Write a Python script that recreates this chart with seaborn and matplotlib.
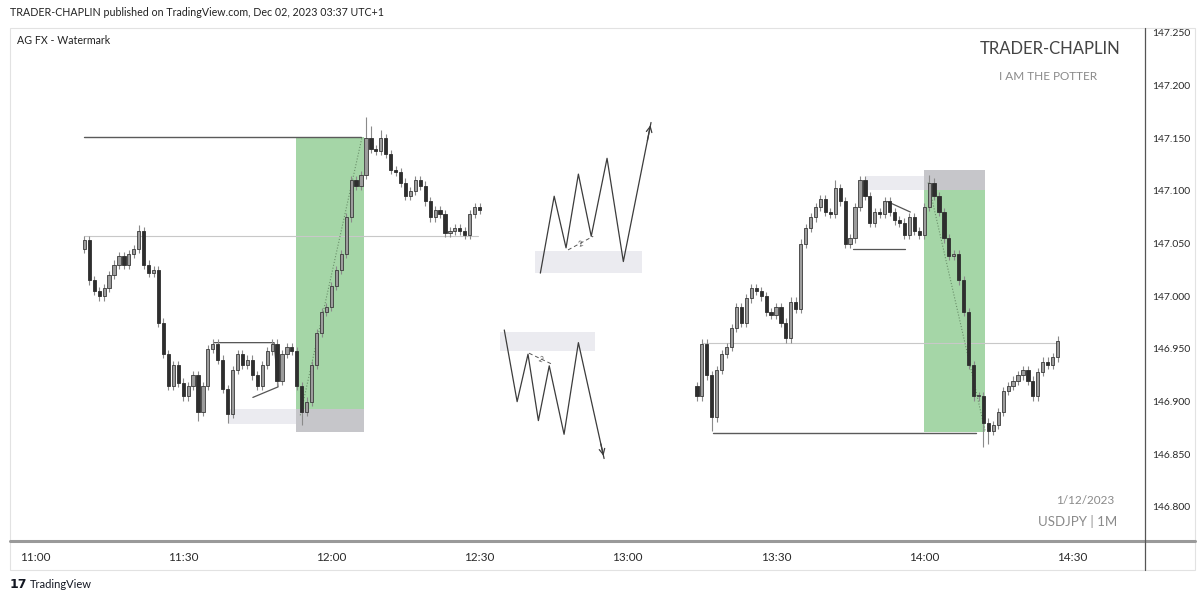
import matplotlib
matplotlib.use('Agg')
import matplotlib.pyplot as plt
from matplotlib.lines import Line2D
from matplotlib.patches import Rectangle
import numpy as np
import pandas as pd
import seaborn as sns

# ---- data (x = minutes after 11:00, y = USDJPY price) ----
seg1_start = 10
seg1_first_open = 147.045
seg1_close = [147.053, 147.015, 147.005, 147.000, 147.008, 147.020, 147.030, 147.038, 147.030, 147.040,
              147.045, 147.062, 147.030, 147.022, 147.025, 146.975, 146.945, 146.915, 146.935, 146.918,
              146.905, 146.915, 146.925, 146.890, 146.915, 146.950, 146.955, 146.940, 146.912, 146.888,
              146.930, 146.945, 146.935, 146.940, 146.925, 146.915, 146.935, 146.948, 146.955, 146.920,
              146.945, 146.952, 146.948, 146.915, 146.890, 146.900, 146.935, 146.965, 146.985, 146.990,
              147.010, 147.025, 147.040, 147.075, 147.110, 147.105, 147.115, 147.150, 147.140, 147.138,
              147.150, 147.135, 147.120, 147.118, 147.108, 147.095, 147.100, 147.110, 147.105, 147.090,
              147.075, 147.082, 147.078, 147.060, 147.062, 147.065, 147.062, 147.058, 147.078, 147.085,
              147.082]
seg1_high_fix = {11: 147.068, 57: 147.170, 58: 147.162, 60: 147.158}
seg1_low_fix = {23: 146.882, 29: 146.880, 44: 146.878}

seg2_start = 134
seg2_first_open = 146.915
seg2_close = [146.905, 146.955, 146.925, 146.885, 146.930, 146.945, 146.952, 146.970, 146.990, 146.975,
              146.998, 147.008, 147.005, 147.000, 146.985, 146.982, 146.990, 146.975, 146.960, 146.995,
              146.988, 147.050, 147.065, 147.075, 147.085, 147.092, 147.080, 147.078, 147.103, 147.090,
              147.050, 147.055, 147.085, 147.110, 147.095, 147.070, 147.080, 147.078, 147.090, 147.080,
              147.072, 147.070, 147.058, 147.075, 147.062, 147.058, 147.085, 147.108, 147.095, 147.080,
              147.055, 147.038, 147.040, 147.015, 146.985, 146.935, 146.905, 146.905, 146.880, 146.872,
              146.878, 146.890, 146.910, 146.915, 146.920, 146.925, 146.930, 146.920, 146.905, 146.928,
              146.938, 146.935, 146.942, 146.958]
seg2_high_fix = {28: 147.110, 47: 147.115, 73: 146.962}
seg2_low_fix = {3: 146.872, 58: 146.857, 59: 146.860}

# drawings
zig_up_x = [102.3, 105.1, 107.5, 110.0, 112.6, 115.8, 119.1, 124.7]
zig_up_y = [147.022, 147.095, 147.046, 147.116, 147.057, 147.131, 147.033, 147.165]
zig_dn_x = [95.0, 97.6, 99.8, 101.9, 104.1, 107.1, 110.0, 115.2]
zig_dn_y = [146.968, 146.900, 146.945, 146.882, 146.934, 146.869, 146.956, 146.846]

# (x0, x1, y0, y1, colour)
boxes = [
    (52.9, 66.6, 146.893, 147.151, '#a5d6a7'),
    (52.9, 66.6, 146.871, 146.893, '#c6c6ca'),
    (39.1, 52.9, 146.879, 146.893, '#ebebf0'),
    (180.0, 192.4, 146.871, 147.101, '#a5d6a7'),
    (180.0, 192.4, 147.101, 147.120, '#c6c6ca'),
    (168.3, 180.0, 147.101, 147.114, '#ebebf0'),
    (101.3, 122.9, 147.022, 147.043, '#ebebf0'),
    (94.2, 113.4, 146.948, 146.966, '#ebebf0'),
]
# (xs, ys, colour, width, style)
lines = [
    ([10, 66], [147.151, 147.151], '#5a5a5a', 1.0, '-'),
    ([10, 89.7], [147.057, 147.057], '#c8c8c8', 0.8, '-'),
    ([36.2, 48.4, 49.2, 44.1], [146.956, 146.956, 146.914, 146.904], '#555555', 0.9, '-'),
    ([53.7, 66.2], [146.887, 147.151], '#6a8f6a', 0.8, ':'),
    ([137.3, 190.4], [146.870, 146.870], '#5a5a5a', 1.0, '-'),
    ([135.3, 207.2], [146.956, 146.956], '#c8c8c8', 0.8, '-'),
    ([165.5, 176.2], [147.045, 147.045], '#555555', 0.9, '-'),
    ([172.5, 177.2], [147.090, 147.080], '#555555', 0.9, '-'),
    ([180.8, 192.4], [147.108, 146.871], '#6a8f6a', 0.8, ':'),
    ([107.9, 113.0], [147.044, 147.057], '#555555', 0.7, (0, (4, 3))),
    ([100.0, 104.9], [146.946, 146.935], '#555555', 0.7, (0, (4, 3))),
]

time_ticks = [0, 30, 60, 90, 120, 150, 180, 210]
time_labels = ['11:00', '11:30', '12:00', '12:30', '13:00', '13:30', '14:00', '14:30']
price_ticks = [146.80, 146.85, 146.90, 146.95, 147.00, 147.05, 147.10, 147.15, 147.20, 147.25]


def make_candles(start, first_open, closes, high_fix, low_fix):
    opens = [first_open] + closes[:-1]
    df = pd.DataFrame({'t': np.arange(start, start + len(closes)), 'open': opens, 'close': closes})
    df['high'] = df[['open', 'close']].max(axis=1) + 0.004
    df['low'] = df[['open', 'close']].min(axis=1) - 0.004
    for k, v in high_fix.items():
        df.loc[k, 'high'] = v
    for k, v in low_fix.items():
        df.loc[k, 'low'] = v
    return df


sns.set_style('white')
plt.rcParams['font.family'] = ['Lato', 'DejaVu Sans']

fig = plt.figure(figsize=(12, 6.01), dpi=100)
ax = fig.add_axes([10 / 1200, 1 - 541 / 601, 1135 / 1200, 513 / 601])

for x0, x1, y0, y1, c in boxes:
    ax.add_patch(Rectangle((x0, y0), x1 - x0, y1 - y0, facecolor=c, edgecolor='none', zorder=1))

for xs, ys, c, w, st in lines:
    ax.plot(xs, ys, color=c, lw=w, ls=st, zorder=2)

candles = pd.concat([make_candles(seg1_start, seg1_first_open, seg1_close, seg1_high_fix, seg1_low_fix),
                     make_candles(seg2_start, seg2_first_open, seg2_close, seg2_high_fix, seg2_low_fix)])
up = candles['close'] >= candles['open']
ax.vlines(candles['t'], candles['low'], candles['high'], color='#8a8a8a', lw=0.8, zorder=3)
body = (candles['close'] - candles['open']).abs().clip(lower=0.0012)
bottom = candles[['open', 'close']].min(axis=1)
ax.bar(candles['t'][up], body[up], bottom=bottom[up], width=0.65, color='#9c9c9c',
       edgecolor='#3a3a3a', linewidth=0.6, zorder=4)
ax.bar(candles['t'][~up], body[~up], bottom=bottom[~up], width=0.65, color='#2e2e2e',
       edgecolor='#2e2e2e', linewidth=0.6, zorder=4)

# zigzag projections
for zx, zy in [(zig_up_x, zig_up_y), (zig_dn_x, zig_dn_y)]:
    sns.lineplot(x=zx, y=zy, sort=False, color='#3c3c3c', lw=0.9, ax=ax, zorder=5)
    ax.annotate('', xy=(zx[-1], zy[-1]), xytext=(zx[-2] + (zx[-1] - zx[-2]) * 0.85,
                                                zy[-2] + (zy[-1] - zy[-2]) * 0.85),
                arrowprops=dict(arrowstyle='->', color='#3c3c3c', lw=0.9), zorder=5)
ax.text(110.4, 147.050, '2', fontsize=5, color='#555555', ha='center', va='center', rotation=20, zorder=6)
ax.text(102.4, 146.9405, '2', fontsize=5, color='#555555', ha='center', va='center', rotation=-20, zorder=6)

ax.set_xlim(-5.06, 224.7)
ax.set_ylim(146.7677, 147.2547)
ax.set_xticks(time_ticks)
ax.set_xticklabels(time_labels)
ax.set_yticks(price_ticks)
ax.set_yticklabels(['%.3f' % p for p in price_ticks])
ax.yaxis.tick_right()
ax.tick_params(axis='both', length=0, colors='#2a2a2a')
ax.tick_params(axis='x', pad=8, labelsize=8.5)
ax.tick_params(axis='y', pad=5, labelsize=7.5)
for s in ax.spines.values():
    s.set_visible(False)

# frame and separators
fig.add_artist(Rectangle((10 / 1200, 1 - 570 / 601), 1185 / 1200, 542 / 601, transform=fig.transFigure,
                         fill=False, edgecolor='#e2e2e2', lw=0.8))
fig.add_artist(Line2D([10 / 1200, 1195 / 1200], [1 - 541 / 601] * 2, color='#9a9a9a', lw=2.2))
fig.add_artist(Line2D([1145 / 1200] * 2, [1 - 28 / 601, 1 - 570 / 601], color='#555555', lw=0.9))

fig.text(10 / 1200, 1 - 12 / 601, 'TRADER-CHAPLIN published on TradingView.com, Dec 02, 2023 03:37 UTC+1',
         fontsize=7.7, color='#222222', va='center')
fig.text(17 / 1200, 1 - 40 / 601, 'AG FX - Watermark', fontsize=7.7, color='#222222', va='center')
fig.text(1121 / 1200, 1 - 49 / 601, 'TRADER-CHAPLIN', fontsize=12, color='#444444', va='center', ha='right')
fig.text(1048 / 1200, 1 - 76 / 601, 'I AM THE POTTER', fontsize=8.5, color='#8a8a8a', va='center', ha='center')
fig.text(1085 / 1200, 1 - 501 / 601, '1/12/2023', fontsize=8.5, color='#8a8a8a', va='center', ha='center')
fig.text(1078 / 1200, 1 - 522 / 601, 'USDJPY | 1M', fontsize=9.5, color='#8a8a8a', va='center', ha='center')
fig.text(10 / 1200, 1 - 584 / 601, '17', fontsize=9, fontweight='bold', color='#131722', va='center',
         family='DejaVu Sans')
fig.text(30 / 1200, 1 - 584 / 601, 'TradingView', fontsize=8, color='#131722', va='center')

fig.savefig('out.png', dpi=100)
